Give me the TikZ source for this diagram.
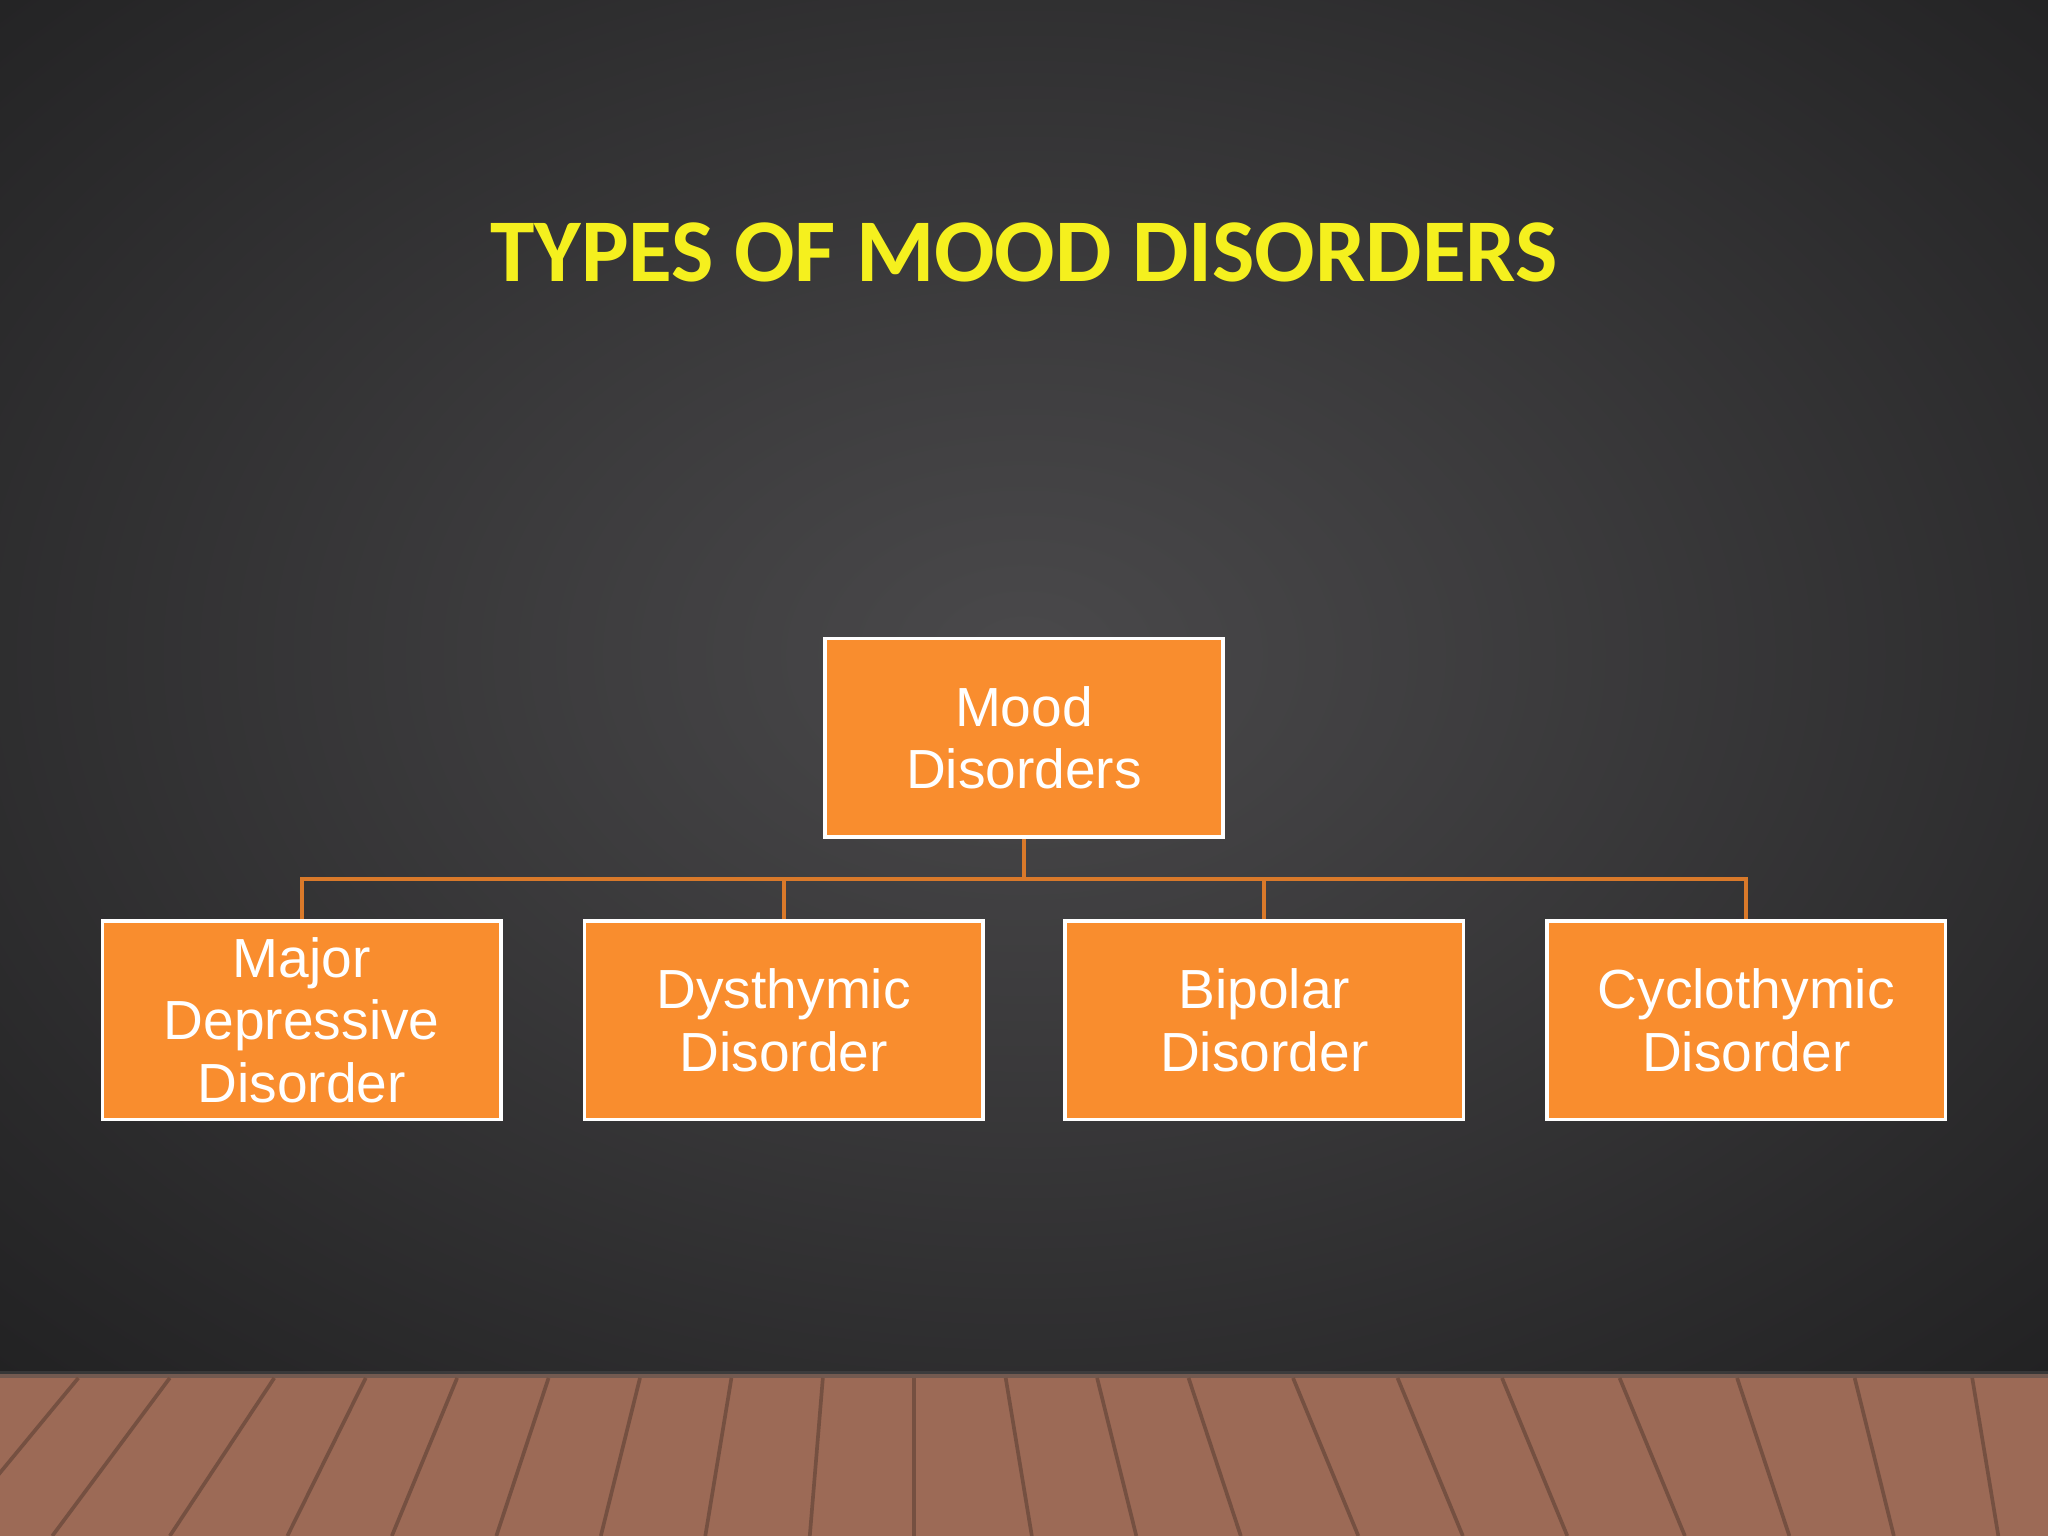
\documentclass[tikz,border=0pt]{standalone}
\usepackage{fontspec}
\setmainfont{Liberation Sans}
\newfontfamily\titlefont{Carlito}
\usetikzlibrary{positioning}
\definecolor{boxorange}{HTML}{F98D2E}
\definecolor{lineorange}{HTML}{D9792A}
\definecolor{titleyellow}{HTML}{F5F01E}
\definecolor{wood}{HTML}{9C6A56}
\begin{document}
\begin{tikzpicture}[
        x=0.01cm, y=-0.01cm,
        box/.style={draw=white, thick, fill=boxorange, rectangle, minimum width=3.05cm, minimum height=1.52cm, align=center, text=white, font=\fontsize{12}{13.6}\selectfont},
        link/.style={lineorange, thick},
    ]
        % background
        \useasboundingbox (0,0) rectangle (1568,1176);
        \shade[inner color={rgb,255:red,74;green,73;blue,75}, outer color={rgb,255:red,30;green,30;blue,31}] (-450,-350) rectangle (2018,1352);
        \fill[wood] (0,1052) rectangle (1568,1176);
        \fill[black!70, opacity=0.5] (0,1050) rectangle (1568,1055);
        \foreach \a/\b in {-40/60, 40/130, 130/210, 220/280, 300/350, 380/420, 460/490, 540/560, 620/630, 700/700, 790/770, 870/840, 950/910, 1040/990, 1120/1070, 1200/1150, 1290/1240, 1370/1330, 1450/1420, 1530/1510, 1610/1600}
            \draw[black!25!wood, thick] (\b,1055) -- (\a,1176);
        % title
        \node[text=titleyellow, font=\titlefont\bfseries\fontsize{19.5}{22}\selectfont] (title) at (784,193) {TYPES OF MOOD DISORDERS};
        % boxes
        \node[box] (mood) at (784,565) {Mood\\Disorders};
        \node[box] (major) at (231,781) {Major\\Depressive\\Disorder};
        \node[box] (dysthymic) at (600,781) {Dysthymic\\Disorder};
        \node[box] (bipolar) at (968,781) {Bipolar\\Disorder};
        \node[box] (cyclo) at (1337,781) {Cyclothymic\\Disorder};
        \coordinate (bus) at (784,673);
        \draw[link] (mood.south) -- (bus);
        \foreach \n in {major, dysthymic, bipolar, cyclo}
            \draw[link] (bus) -| (\n.north);
    \end{tikzpicture}
\end{document}
